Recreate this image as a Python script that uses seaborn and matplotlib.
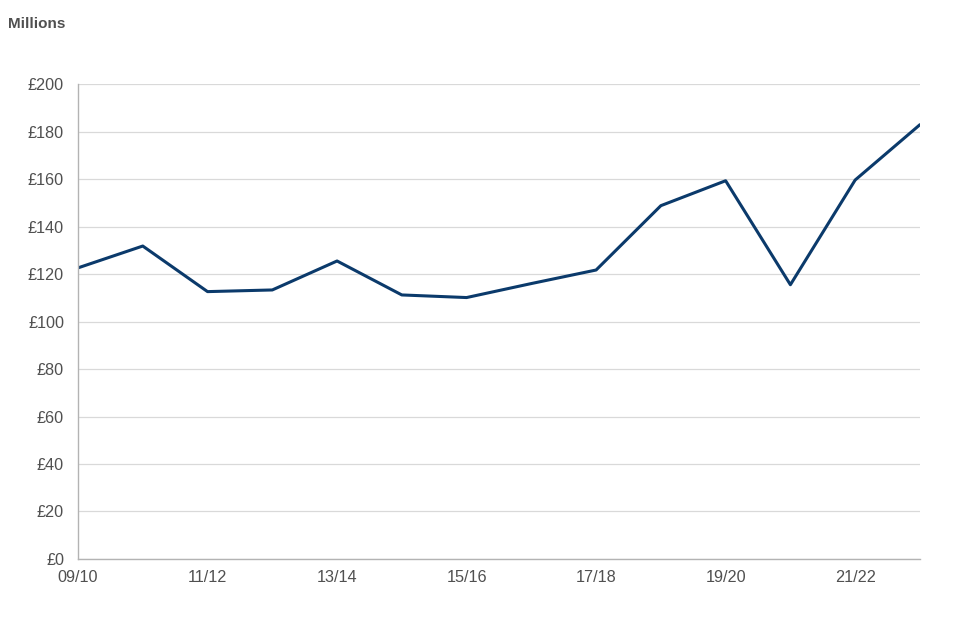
import numpy as np
import pandas as pd
import matplotlib
matplotlib.use("Agg")
import matplotlib.pyplot as plt
import seaborn as sns

# financial years and spend (GBP millions)
years = ["09/10", "10/11", "11/12", "12/13", "13/14", "14/15", "15/16",
         "16/17", "17/18", "18/19", "19/20", "20/21", "21/22", "22/23"]
spend = [122.6, 131.8, 112.6, 113.3, 125.5, 111.2, 110.1,
         116.0, 121.7, 148.8, 159.3, 115.5, 159.6, 182.9]

df = pd.DataFrame({"year": years, "spend": spend, "pos": np.arange(len(years))})

sns.set_style("white")
plt.rcParams["font.family"] = ["Liberation Sans", "DejaVu Sans"]

fig = plt.figure(figsize=(9.6, 6.4), dpi=100)
ax = fig.add_axes([0.08125, 0.1266, 0.877, 0.742])

grey = "#b3b3b3"
text_col = "#505050"

sns.lineplot(data=df, x="pos", y="spend", ax=ax, color="#0b3a6b", linewidth=2.2)

ax.set_xlim(0, len(years) - 1)
ax.set_ylim(0, 200)
ax.set_yticks(np.arange(0, 201, 20))
ax.set_yticklabels([f"£{v}" for v in range(0, 201, 20)])
ax.set_xticks(df["pos"])
ax.set_xticklabels([y if i % 2 == 0 else "" for i, y in enumerate(years)])

ax.yaxis.grid(True, color="#d9d9d9", linewidth=0.9)
ax.set_axisbelow(True)
for side in ["top", "right"]:
    ax.spines[side].set_visible(False)
for side in ["left", "bottom"]:
    ax.spines[side].set_color(grey)
    ax.spines[side].set_linewidth(1.0)

ax.tick_params(axis="both", which="both", direction="out", length=5,
               color=grey, labelcolor=text_col, labelsize=11.7, pad=3)
ax.tick_params(axis="y", pad=5)
ax.set_xlabel("")
ax.set_ylabel("")

fig.text(0.008, 0.962, "Millions", fontsize=11, fontweight="bold",
         color=text_col, ha="left", va="center")

fig.savefig("out.png", dpi=100)
